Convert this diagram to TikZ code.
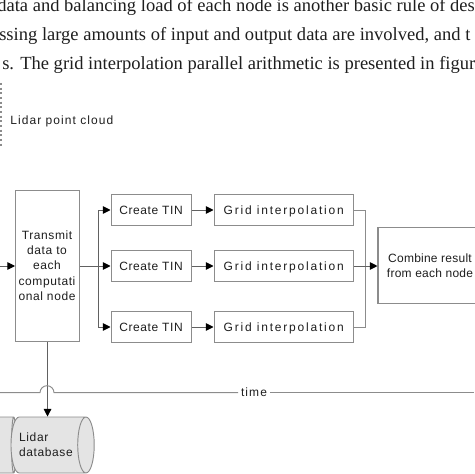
\documentclass[tikz,border=0pt]{standalone}
\usepackage{fontspec}
\setmainfont{Liberation Serif}
\setsansfont{Liberation Sans}
\newfontfamily\tinfont[LetterSpace=5]{Liberation Sans}
\newfontfamily\wordfont[LetterSpace=9]{Liberation Sans}
\newfontfamily\gridfont[LetterSpace=15]{Liberation Sans}
\usetikzlibrary{arrows.meta,positioning,calc,shapes.geometric}
\definecolor{Ink}{HTML}{1E1E1E}
\definecolor{Edge}{HTML}{8C8C8C}
\definecolor{DbFill}{HTML}{E4E4E4}
\tikzset{
  procbox/.style={draw=Edge,fill=white,line width=0.8pt,align=center,font=\sffamily\addfontfeature{LetterSpace=2}\fontsize{9}{11.5}\selectfont,text=Ink,inner sep=0pt},
  tinbox/.style={procbox,font=\tinfont\fontsize{9}{11.5}\selectfont,minimum width=60pt,minimum height=23.7pt,text height=6.5pt,text depth=0pt},
  gridbox/.style={procbox,font=\gridfont\fontsize{9}{11.5}\selectfont,minimum width=104.6pt,minimum height=23.7pt,text height=6.5pt,text depth=0pt},
  dbcyl/.style={draw=Edge,fill=DbFill,cylinder,shape aspect=0.5,line width=0.7pt,minimum height=58.5pt,minimum width=42pt,align=left,font=\tinfont\fontsize{9}{11.5}\selectfont,text=Ink},
  line/.style={-{Triangle[length=2mm,width=2mm,color=black]},draw=Ink!70,line width=0.7pt},
  plainline/.style={draw=Edge,line width=0.7pt},
  bodyline/.style={font=\fontsize{13.9}{16}\selectfont,text=Ink,inner sep=0pt,anchor=west}
}
\begin{document}
\begin{tikzpicture}[x=0.75pt,y=-0.75pt]
  \useasboundingbox (0,0) rectangle (474,474);
  % page text above the figure
  \node[bodyline] (txta) at (-3,6.5) {data and balancing load of each node is another basic rule of des};
  \node[bodyline] (txtb) at (-1,35.5) {ssing large amounts of input and output data are involved, and t};
  \node[bodyline] (txtc) at (2,64.5) {s. The grid interpolation parallel arithmetic is presented in figur};
  \draw[Edge,line width=1.5pt,dotted] (0.7,83) -- (0.7,146);
  \node[font=\wordfont\fontsize{9}{11}\selectfont,text=Ink,anchor=west,inner sep=0pt] (cloud) at (10,121) {Lidar point cloud};

  % process boxes
  \node[procbox,minimum width=48pt,minimum height=113.5pt,anchor=north west] (send) at (15,190) {};
  \node[procbox,draw=none,fill=none,font=\tinfont\fontsize{9}{11.5}\selectfont,text width=48pt] (sendtxt) at (47,265.6) {Transmit\\data to\\each\\computati\\onal node};
  \node[tinbox,anchor=west] (tina) at (110.5,210) {Create TIN};
  \node[tinbox,anchor=west] (tinb) at (110.5,266) {Create TIN};
  \node[tinbox,anchor=west] (tinc) at (110.5,327) {Create TIN};
  \node[gridbox,anchor=west] (grida) at (213.5,210) {Grid interpolation};
  \node[gridbox,anchor=west] (gridb) at (213.5,266) {Grid interpolation};
  \node[gridbox,anchor=west] (gridc) at (213.5,327) {Grid interpolation};
  \node[procbox,minimum width=78pt,minimum height=56.5pt] (merge) at (430,265.5) {Combine result\\from each node};

  % connectors
  \coordinate (start) at (0,266);
  \coordinate (fork) at (98,266);
  \coordinate (join) at (365.7,266);
  \draw[line] (start) -- (send.west |- start);
  \draw[line] (send.east |- fork) -- (tinb.west);
  \draw[line] (fork) |- (tina.west);
  \draw[line] (fork) |- (tinc.west);
  \draw[line] (tina) -- (grida);
  \draw[line] (tinb) -- (gridb);
  \draw[line] (tinc) -- (gridc);
  \draw[plainline] (grida.east) -| (join);
  \draw[plainline] (gridc.east) -| (join);
  \draw[line] (gridb.east) -- (merge.west |- gridb.east);

  % store at the bottom
  \node[dbcyl] (olddb) at (-25,445) {};
  \node[dbcyl] (lidardb) at (46,445) {Lidar\\database};
  \draw[line] (send.south) -- (send.south |- lidardb.north);

  % time axis
  \node[font=\wordfont\fontsize{9}{11}\selectfont,text=Ink,inner sep=2pt] (time) at (254,392.7) {time};
  \coordinate (axisa) at (0,392.7);
  \coordinate (axisb) at (474,392.7);
  \coordinate (hopa) at (40,392.7);
  \draw[plainline] (axisa) -- (hopa) arc[start angle=180,end angle=360,radius=7] -- (time);
  \draw[plainline] (time) -- (axisb);
\end{tikzpicture}
\end{document}
